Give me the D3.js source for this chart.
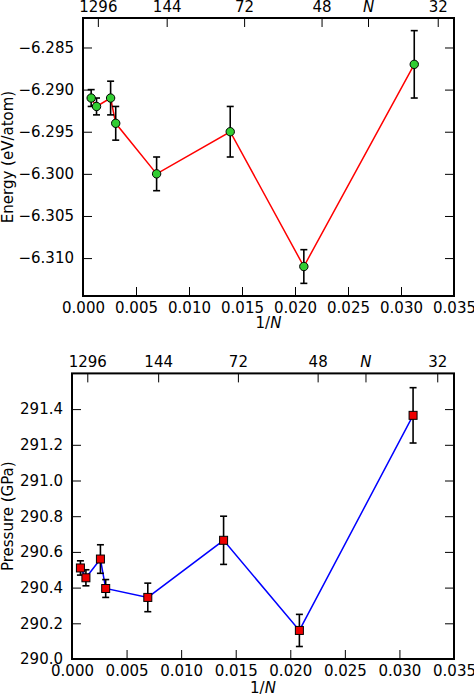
<!DOCTYPE html>
<html lang="en">
<head>
  <meta charset="UTF-8">
  <title>Energy and pressure vs 1/N</title>
  <script src="https://d3js.org/d3.v7.min.js"></script>
  <style>
    body {
      margin: 0;
      background: #ffffff;
    }
    svg {
      font-family: "DejaVu Sans", sans-serif;
    }
    .axis text {
      font-size: 15px;
      fill: #000000;
      font-family: "DejaVu Sans", sans-serif;
    }
    .axis path {
      display: none;
    }
    .axis line {
      stroke: #000000;
      stroke-width: 1;
    }
    .frame {
      fill: none;
      stroke: #000000;
      stroke-width: 2;
    }
    .axis-label {
      font-size: 15px;
      fill: #000000;
    }
  </style>
</head>
<body>
  <svg width="474" height="695"></svg>

  <script>
    // system sizes N, plotted at 1/N
    const sizes = [1296, 784, 384, 324, 144, 72, 48, 32];

    // energy (eV/atom) and its error bar
    const energy = [-6.291, -6.292, -6.291, -6.294, -6.300, -6.295, -6.311, -6.287];
    const energyErr = [0.001, 0.001, 0.002, 0.002, 0.002, 0.003, 0.002, 0.004];

    // pressure (GPa) and its error bar
    const pressure = [290.51, 290.455, 290.56, 290.395, 290.345, 290.665, 290.16, 291.365];
    const pressureErr = [0.04, 0.045, 0.08, 0.05, 0.08, 0.135, 0.09, 0.155];

    // ticks
    const xTicks = [0, 0.005, 0.010, 0.015, 0.020, 0.025, 0.030, 0.035];
    const topTickN = [1296, 144, 72, 48, 40, 32];
    const topTickLabels = ["1296", "144", "72", "48", "N", "32"];
    const energyTicks = [-6.285, -6.290, -6.295, -6.300, -6.305, -6.310];
    const pressureTicks = [290.0, 290.2, 290.4, 290.6, 290.8, 291.0, 291.2, 291.4];

    const svg = d3.select("svg");

    const panels = [
      {
        box: { left: 83, right: 454, top: 18, bottom: 296 },
        yDomain: [-6.3145, -6.2815],
        values: energy,
        errors: energyErr,
        yTicks: energyTicks,
        yFormat: d3.format(".3f"),
        yLabel: "Energy (eV/atom)",
        lineColor: "#ff0000",
        marker: "circle",
        markerColor: "#32cd32",
        xLabelY: 328
      },
      {
        box: { left: 72, right: 454, top: 373.4, bottom: 659 },
        yDomain: [290.0, 291.6],
        values: pressure,
        errors: pressureErr,
        yTicks: pressureTicks,
        yFormat: d3.format(".1f"),
        yLabel: "Pressure (GPa)",
        lineColor: "#0000ff",
        marker: "square",
        markerColor: "#ee0000",
        xLabelY: 693
      }
    ];

    panels.forEach(p => {
      const b = p.box;
      const data = sizes.map((n, i) => ({ x: 1 / n, y: p.values[i], err: p.errors[i] }));

      const x = d3.scaleLinear().domain([0, 0.035]).range([b.left, b.right]);
      // the N axis on top is a twin axis with slightly shifted limits
      const xTop = d3.scaleLinear().domain([-0.00056, 0.03271]).range([b.left, b.right]);
      const y = d3.scaleLinear().domain(p.yDomain).range([b.bottom, b.top]);

      const g = svg.append("g");

      // bottom axis
      g.append("g")
        .attr("class", "axis")
        .attr("transform", `translate(0,${b.bottom})`)
        .call(d3.axisBottom(x).tickValues(xTicks).tickFormat(d3.format(".3f"))
          .tickSizeInner(-9).tickSizeOuter(0).tickPadding(6));

      // top axis in N
      const topAxis = g.append("g")
        .attr("class", "axis")
        .attr("transform", `translate(0,${b.top})`)
        .call(d3.axisTop(xTop).tickValues(topTickN.map(n => 1 / n))
          .tickFormat((d, i) => topTickLabels[i])
          .tickSizeInner(-9).tickSizeOuter(0).tickPadding(6));
      topAxis.selectAll("text")
        .style("font-style", (d, i) => topTickLabels[i] === "N" ? "italic" : "normal");

      // left axis
      g.append("g")
        .attr("class", "axis")
        .attr("transform", `translate(${b.left},0)`)
        .call(d3.axisLeft(y).tickValues(p.yTicks).tickFormat(p.yFormat)
          .tickSizeInner(-9).tickSizeOuter(0).tickPadding(9));

      // right axis ticks
      g.append("g")
        .attr("class", "axis")
        .attr("transform", `translate(${b.right},0)`)
        .call(d3.axisRight(y).tickValues(p.yTicks).tickFormat("")
          .tickSizeInner(-9).tickSizeOuter(0));

      // line through the points
      const line = d3.line()
        .x(d => x(d.x))
        .y(d => y(d.y));

      g.append("path")
        .datum(data)
        .attr("fill", "none")
        .attr("stroke", p.lineColor)
        .attr("stroke-width", 1.5)
        .attr("d", line);

      // error bars
      const bars = g.append("g")
        .attr("stroke", "#000000")
        .attr("stroke-width", 1.6);

      bars.selectAll(".stem")
        .data(data)
        .join("line")
        .attr("x1", d => x(d.x))
        .attr("x2", d => x(d.x))
        .attr("y1", d => y(d.y - d.err))
        .attr("y2", d => y(d.y + d.err));

      [1, -1].forEach(sign => {
        bars.selectAll(null)
          .data(data)
          .join("line")
          .attr("x1", d => x(d.x) - 3.5)
          .attr("x2", d => x(d.x) + 3.5)
          .attr("y1", d => y(d.y + sign * d.err))
          .attr("y2", d => y(d.y + sign * d.err));
      });

      // markers
      if (p.marker === "circle") {
        g.selectAll(".pt")
          .data(data)
          .join("circle")
          .attr("cx", d => x(d.x))
          .attr("cy", d => y(d.y))
          .attr("r", 4.2)
          .attr("fill", p.markerColor)
          .attr("stroke", "#000000")
          .attr("stroke-width", 1);
      } else {
        g.selectAll(".pt")
          .data(data)
          .join("rect")
          .attr("x", d => x(d.x) - 4)
          .attr("y", d => y(d.y) - 4)
          .attr("width", 8)
          .attr("height", 8)
          .attr("fill", p.markerColor)
          .attr("stroke", "#000000")
          .attr("stroke-width", 1);
      }

      // frame
      g.append("rect")
        .attr("class", "frame")
        .attr("x", b.left)
        .attr("y", b.top)
        .attr("width", b.right - b.left)
        .attr("height", b.bottom - b.top);

      // axis labels
      const xl = g.append("text")
        .attr("class", "axis-label")
        .attr("x", (b.left + b.right) / 2)
        .attr("y", p.xLabelY)
        .attr("text-anchor", "middle");
      xl.append("tspan").text("1/");
      xl.append("tspan").style("font-style", "italic").text("N");

      g.append("text")
        .attr("class", "axis-label")
        .attr("transform", `translate(13,${(b.top + b.bottom) / 2}) rotate(-90)`)
        .attr("text-anchor", "middle")
        .text(p.yLabel);
    });
  </script>
</body>
</html>
